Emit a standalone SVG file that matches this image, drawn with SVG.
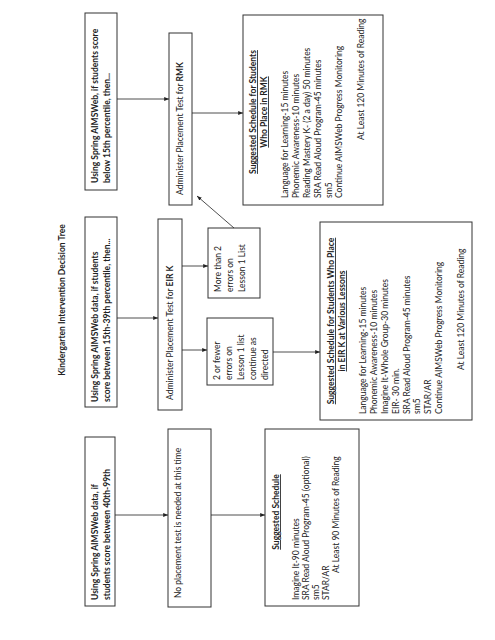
<svg xmlns="http://www.w3.org/2000/svg" width="495" height="640" viewBox="0 0 495 640">
<style>
text{font-family:Lato,"Liberation Sans",sans-serif;font-size:8.5px;fill:#222}
.box{fill:#fff;stroke:#333;stroke-width:1}
.b{font-weight:bold}
.u{font-weight:bold;text-decoration:underline}
.m{text-anchor:middle}
#connectors line{stroke:#222;stroke-width:0.8;marker-end:url(#ah)}
</style>
<defs>
<marker id="ah" viewBox="0 0 10 10" refX="10" refY="5" markerWidth="6" markerHeight="6" orient="auto"><path d="M0,1 L10,5 L0,9z" fill="#222"/></marker>
</defs>
<rect width="495" height="640" fill="#fff"/>
<g id="title"><text class="b m" font-size="9" transform="translate(65,300) rotate(-90)">Kindergarten Intervention Decision Tree</text></g>

<g id="n-below15">
<rect class="box" x="85" y="13" width="32" height="177"/>
<text class="b" transform="translate(98,183) rotate(-90)">Using Spring AIMSWeb, if students score</text>
<text class="b" transform="translate(110,183) rotate(-90)">below 15th percentile, then...</text>
</g>
<g id="n-15to39">
<rect class="box" x="85" y="217" width="32" height="190"/>
<text class="b" transform="translate(98,402) rotate(-90)">Using Spring AIMSWeb data, if students</text>
<text class="b" transform="translate(110,402) rotate(-90)">score between 15th-39th percentile, then...</text>
</g>
<g id="n-40to99">
<rect class="box" x="85" y="437" width="30" height="169"/>
<text class="b" transform="translate(98,600) rotate(-90)">Using Spring AIMSWeb data, if</text>
<text class="b" transform="translate(110,600) rotate(-90)">students score between 40th-99th</text>
</g>

<g id="n-admin-rmk">
<rect class="box" x="169" y="33" width="23" height="172"/>
<text transform="translate(183,195) rotate(-90)">Administer Placement Test for <tspan class="b">RMK</tspan></text>
</g>
<g id="n-admin-eirk">
<rect class="box" x="158" y="219" width="24" height="191"/>
<text transform="translate(173,400) rotate(-90)">Administer Placement Test for <tspan class="b">EIR K</tspan></text>
</g>
<g id="n-noplacement">
<rect class="box" x="168" y="429" width="43" height="178"/>
<text transform="translate(181,598) rotate(-90)">No placement test is needed at this time</text>
</g>

<g id="n-more2">
<rect class="box" x="208" y="228" width="52" height="70"/>
<text transform="translate(221,292) rotate(-90)">More than 2</text>
<text transform="translate(233,292) rotate(-90)">errors on</text>
<text transform="translate(245,292) rotate(-90)">Lesson 1 List</text>
</g>
<g id="n-2fewer">
<rect class="box" x="207" y="318" width="66" height="67"/>
<text transform="translate(220,380) rotate(-90)">2 or fewer</text>
<text transform="translate(232,380) rotate(-90)">errors on</text>
<text transform="translate(244,380) rotate(-90)">Lesson 1 list</text>
<text transform="translate(256,380) rotate(-90)">continue as</text>
<text transform="translate(268,380) rotate(-90)">directed</text>
</g>

<g id="n-rmk-schedule">
<rect class="box" x="243" y="15" width="140" height="190"/>
<text class="u m" transform="translate(256,112) rotate(-90)">Suggested Schedule for Students</text>
<text class="u m" transform="translate(267,112) rotate(-90)">Who Place in RMK</text>
<text transform="translate(288,198) rotate(-90)">Language for Learning-15 minutes</text>
<text transform="translate(299,198) rotate(-90)">Phonemic Awareness-10 minutes</text>
<text transform="translate(310,198) rotate(-90)">Reading Mastery K- (2 a day) 50 minutes</text>
<text transform="translate(321,198) rotate(-90)">SRA Read Aloud Program-45 minutes</text>
<text transform="translate(332,198) rotate(-90)">sm5</text>
<text transform="translate(342,198) rotate(-90)">Continue AIMSWeb Progress Monitoring</text>
<text transform="translate(364,140) rotate(-90)">At Least 120 Minutes of Reading</text>
</g>

<g id="n-eir-schedule">
<rect class="box" x="320" y="222" width="152" height="198"/>
<text class="u m" transform="translate(334,321) rotate(-90)">Suggested Schedule for Students Who Place</text>
<text class="u m" transform="translate(345,321) rotate(-90)">in EIR K at Various Lessons</text>
<text transform="translate(366,414) rotate(-90)">Language for Learning-15 minutes</text>
<text transform="translate(377,414) rotate(-90)">Phonemic Awareness-10 minutes</text>
<text transform="translate(388,414) rotate(-90)">Imagine It-Whole Group-30 minutes</text>
<text transform="translate(399,414) rotate(-90)">EIR- 30 min.</text>
<text transform="translate(410,414) rotate(-90)">SRA Read Aloud Program-45 minutes</text>
<text transform="translate(420,414) rotate(-90)">sm5</text>
<text transform="translate(431,414) rotate(-90)">STAR/AR</text>
<text transform="translate(442,414) rotate(-90)">Continue AIMSWeb Progress Monitoring</text>
<text transform="translate(464,370) rotate(-90)">At Least 120 Minutes of Reading</text>
</g>

<g id="n-suggested">
<rect class="box" x="265" y="429" width="94" height="177"/>
<text class="u m" transform="translate(279,512) rotate(-90)">Suggested Schedule</text>
<text transform="translate(299,600) rotate(-90)">Imagine It-90 minutes</text>
<text transform="translate(309,600) rotate(-90)">SRA Read Aloud Program-45 (optional)</text>
<text transform="translate(319,600) rotate(-90)">sm5</text>
<text transform="translate(329,600) rotate(-90)">STAR/AR</text>
<text transform="translate(339,573) rotate(-90)">At Least 90 Minutes of Reading</text>
</g>

<g id="connectors">
<line x1="117" y1="99" x2="169" y2="99"/>
<line x1="117" y1="318" x2="158" y2="318"/>
<line x1="115" y1="515" x2="168" y2="515"/>
<line x1="192" y1="113" x2="243" y2="113"/>
<line x1="182" y1="266" x2="208" y2="266"/>
<line x1="182" y1="350" x2="207" y2="350"/>
<line x1="211" y1="515" x2="265" y2="515"/>
<line x1="234" y1="228" x2="197" y2="196"/>
<line x1="273" y1="352" x2="320" y2="352"/>
</g>
</svg>
